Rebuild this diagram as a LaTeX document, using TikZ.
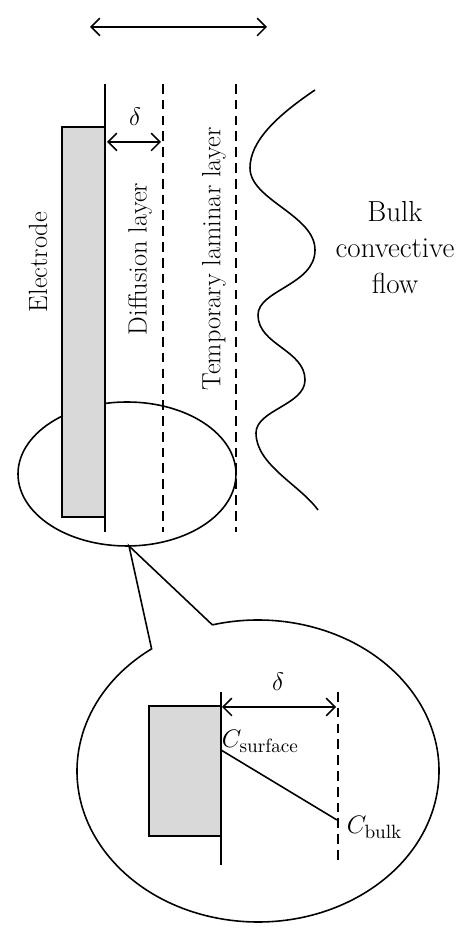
\documentclass[tikz,border=0pt]{standalone}
\usepackage{amssymb}
\usepackage{amsmath}
\usetikzlibrary{arrows.meta}

\begin{document}
\begin{tikzpicture}[x=0.02cm, y=0.02cm, line width=0.9pt,
	>={Straight Barb[length=5pt,width=10pt]},
	every node/.style={font=\fontsize{15}{20}\selectfont},
	dash line/.style={dash pattern=on 5.5pt off 3.5pt},
	elec/.style={draw, fill=black!15}]
	\useasboundingbox (0,0) rectangle (474,942);

	% top view
	\coordinate (f1) at (90,915);
	\coordinate (f2) at (267,915);
	\draw[<->] (f1) -- (f2);

	\draw (127,468) ellipse [x radius=109, y radius=72];
	\draw[elec] (62,425) rectangle (105,815);

	\coordinate (w1) at (105,858);
	\coordinate (w2) at (105,410);
	\coordinate (d1) at (163,858);
	\coordinate (d2) at (163,410);
	\coordinate (t1) at (236,858);
	\coordinate (t2) at (236,410);
	\path (w1) edge (w2)
	(d1) edge[dash line] (d2)
	(t1) edge[dash line] (t2);

	\coordinate (dl1) at (107,800);
	\coordinate (dl2) at (161,800);
	\draw[<->] (dl1) -- (dl2);
	\node (dlt) at (135,825) {$\delta$};

	\draw (315,852) .. controls (275,825) and (250,800) .. (250,774)
	.. controls (250,742) and (315,727) .. (315,692)
	.. controls (315,657) and (258,652) .. (258,627)
	.. controls (258,597) and (305,592) .. (305,562)
	.. controls (305,537) and (256,532) .. (256,509)
	.. controls (256,477) and (300,457) .. (318,432);

	\node[rotate=90] (el) at (38,680) {Electrode};
	\node[rotate=90] (dif) at (140,683) {Diffusion layer};
	\node[rotate=90] (lam) at (214,683) {Temporary laminar layer};
	\node[align=center, font=\fontsize{16.5}{20.5}\selectfont] (bulk) at (395,694) {Bulk\\convective\\flow};

	% zoom bubble
	\coordinate (bub) at (258,171);
	\coordinate (tip) at (129,396);
	\path (bub) ++(126:181 and 151) coordinate (pa);
	\path (bub) ++(104.6:181 and 151) coordinate (pb);
	\draw (pb) -- (tip) -- (pa) arc[start angle=126, end angle=464.6, x radius=181, y radius=151];

	\draw[elec] (149,106) rectangle (221,236);
	\coordinate (s1) at (221,250);
	\coordinate (s2) at (221,77);
	\coordinate (b1) at (338,250);
	\coordinate (b2) at (338,77);
	\path (s1) edge (s2)
	(b1) edge[dash line] (b2);

	\coordinate (z1) at (222,235);
	\coordinate (z2) at (336,235);
	\draw[<->] (z1) -- (z2);
	\node (zdl) at (278,260) {$\delta$};

	\coordinate (cs) at (221,192);
	\coordinate (cb) at (337,122);
	\draw (cs) -- (cb);
	\node[anchor=base west, inner sep=0pt] (csl) at (221,194) {$C_\mathrm{surface}$};
	\node[anchor=base west, inner sep=0pt] (cbl) at (346,108) {$C_\mathrm{bulk}$};
\end{tikzpicture}
\end{document}
